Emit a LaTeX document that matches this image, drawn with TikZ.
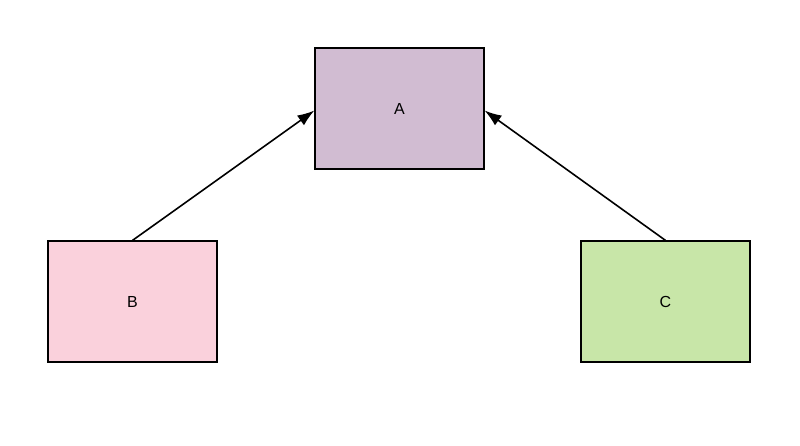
\documentclass[tikz,border=0pt]{standalone}
\usepackage{fontspec}
\setmainfont{Liberation Sans}
\usetikzlibrary{arrows.meta}
\begin{document}
\begin{tikzpicture}[x=1pt,y=-1pt,
  box/.style={draw=black,line width=1.2pt,minimum width=169pt,minimum height=121pt,inner sep=0pt,font=\fontsize{16pt}{18pt}\selectfont},
  conn/.style={draw=black,line width=1.6pt,-{Latex[length=17pt,width=12pt]}}]
\useasboundingbox (0,0) rectangle (800,445);
\node[box,fill={rgb,255:red,209;green,188;blue,210}] (A) at (399.5,108.5) {A};
\node[box,fill={rgb,255:red,250;green,209;blue,220}] (B) at (132.5,301.5) {B};
\node[box,fill={rgb,255:red,200;green,230;blue,168}] (C) at (665.5,301.5) {C};
\draw[conn] (B.north) -- ([yshift=-2pt]A.west);
\draw[conn] (C.north) -- ([yshift=-2pt]A.east);
\end{tikzpicture}
\end{document}
